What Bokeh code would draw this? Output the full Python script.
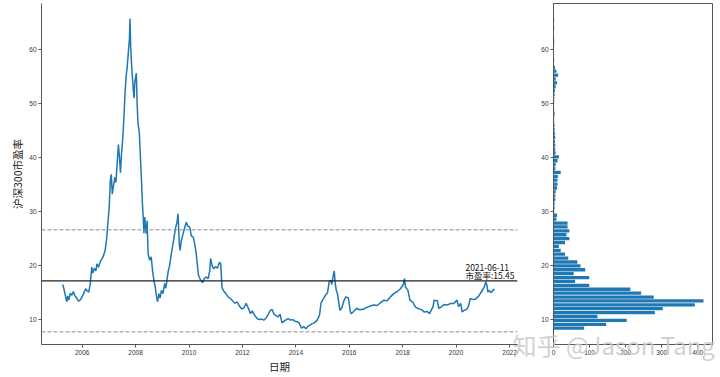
import pandas as pd
from bokeh.plotting import figure
from bokeh.layouts import row, column
from bokeh.models import Range1d, FixedTicker, DatetimeTickFormatter, Span, Label
from bokeh.embed import file_html
from bokeh.resources import INLINE

# ---------------- data ----------------
pe_dates = [
    "2005-04-08", "2005-04-22", "2005-05-13", "2005-06-03", "2005-06-17", "2005-07-01", "2005-07-22",
    "2005-08-12", "2005-09-02", "2005-09-23", "2005-10-21", "2005-11-11", "2005-12-02", "2005-12-23",
    "2006-01-20", "2006-02-17", "2006-03-10", "2006-03-31", "2006-04-21", "2006-05-12", "2006-05-26",
    "2006-06-16", "2006-07-07", "2006-07-21", "2006-08-11", "2006-09-08", "2006-10-13", "2006-11-10",
    "2006-12-01", "2006-12-15", "2007-01-05", "2007-01-19", "2007-02-02", "2007-02-16", "2007-03-02",
    "2007-03-23", "2007-04-06", "2007-04-20", "2007-05-11", "2007-05-25", "2007-06-08", "2007-06-22",
    "2007-07-13", "2007-07-27", "2007-08-10", "2007-08-24", "2007-09-07", "2007-09-21", "2007-10-09",
    "2007-10-16", "2007-10-26", "2007-11-06", "2007-11-20", "2007-11-30", "2007-12-11", "2007-12-21",
    "2008-01-11", "2008-01-22", "2008-02-01", "2008-02-22", "2008-03-07", "2008-03-18", "2008-04-01",
    "2008-04-14", "2008-04-24", "2008-05-06", "2008-05-16", "2008-05-27", "2008-06-06", "2008-06-20",
    "2008-07-11", "2008-08-01", "2008-08-20", "2008-09-10", "2008-09-26", "2008-10-10", "2008-10-28",
    "2008-11-14", "2008-12-01", "2008-12-19", "2009-01-09", "2009-02-02", "2009-02-16", "2009-03-02",
    "2009-03-20", "2009-04-10", "2009-05-04", "2009-05-20", "2009-06-10", "2009-07-01", "2009-07-20",
    "2009-08-04", "2009-08-20", "2009-09-01", "2009-09-15", "2009-10-12", "2009-11-02", "2009-11-24",
    "2009-12-15", "2010-01-11", "2010-02-01", "2010-03-01", "2010-03-19", "2010-04-09", "2010-04-26",
    "2010-05-10", "2010-06-01", "2010-07-05", "2010-07-23", "2010-08-20", "2010-09-20", "2010-10-11",
    "2010-10-22", "2010-11-12", "2010-12-03", "2010-12-30", "2011-01-25", "2011-02-21", "2011-03-10",
    "2011-03-28", "2011-04-20", "2011-05-20", "2011-06-20", "2011-07-20", "2011-08-19", "2011-09-20",
    "2011-10-20", "2011-11-21", "2011-12-20", "2012-01-19", "2012-02-20", "2012-03-09", "2012-04-20",
    "2012-05-15", "2012-06-20", "2012-07-20", "2012-08-20", "2012-09-20", "2012-10-19", "2012-11-20",
    "2012-12-20", "2013-01-18", "2013-02-08", "2013-03-08", "2013-03-29", "2013-05-02", "2013-05-30",
    "2013-06-25", "2013-08-01", "2013-09-16", "2013-10-21", "2013-11-20", "2013-12-20", "2014-01-20",
    "2014-02-14", "2014-03-20", "2014-04-18", "2014-05-20", "2014-06-16", "2014-07-10", "2014-08-05",
    "2014-09-10", "2014-10-20", "2014-11-20", "2014-12-10", "2014-12-31", "2015-01-20", "2015-02-10",
    "2015-03-10", "2015-04-01", "2015-04-20", "2015-05-08", "2015-06-01", "2015-06-10", "2015-06-25",
    "2015-07-08", "2015-07-24", "2015-08-26", "2015-09-21", "2015-10-20", "2015-11-16", "2015-12-21",
    "2016-01-15", "2016-01-28", "2016-03-01", "2016-04-11", "2016-05-20", "2016-07-11", "2016-08-22",
    "2016-10-10", "2016-12-01", "2017-01-16", "2017-03-01", "2017-04-20", "2017-06-01", "2017-07-17",
    "2017-09-01", "2017-10-20", "2017-12-01", "2018-01-10", "2018-01-25", "2018-02-09", "2018-03-12",
    "2018-04-10", "2018-05-21", "2018-06-25", "2018-08-10", "2018-09-20", "2018-10-19", "2018-12-03",
    "2019-01-03", "2019-02-20", "2019-03-07", "2019-04-19", "2019-05-10", "2019-06-10", "2019-07-19",
    "2019-09-02", "2019-10-21", "2019-12-02", "2020-01-14", "2020-02-03", "2020-03-05", "2020-03-23",
    "2020-04-20", "2020-05-25", "2020-06-19", "2020-07-13", "2020-08-20", "2020-09-25", "2020-11-02",
    "2020-12-15", "2021-01-20", "2021-02-10", "2021-03-01", "2021-03-10", "2021-04-01", "2021-04-20",
    "2021-05-10", "2021-05-25", "2021-06-11",
]
pe_values = [
    16.5, 15.9, 14.6, 13.3, 14.4, 13.6, 14.9,
    14.5, 15.2, 14.4, 13.9, 13.4, 13.6, 14.0,
    14.8, 15.7, 15.3, 15.1, 16.6, 19.7, 18.6,
    19.5, 19.0, 20.3, 19.7, 20.8, 21.6, 22.8,
    25.0, 27.4, 30.8, 35.5, 36.9, 33.2, 34.5,
    36.3, 35.4, 38.1, 42.4, 40.1, 37.2, 40.6,
    44.3, 48.0, 52.0, 55.0, 56.6, 59.0, 62.0,
    65.7, 60.5, 57.4, 54.5, 52.6, 51.0, 54.0,
    55.6, 50.0, 46.7, 44.3, 40.0, 36.9, 32.0,
    28.9, 26.0, 29.0, 26.8, 25.9, 28.3, 22.2,
    21.0, 21.6, 19.0, 17.0, 16.0, 14.5, 13.3,
    14.8, 14.0, 15.4, 14.8, 16.7, 15.8, 17.0,
    18.8, 20.0, 22.2, 23.5, 25.2, 27.0, 28.0,
    29.6, 24.0, 22.8, 24.5, 25.9, 27.0, 28.0,
    27.3, 27.1, 25.5, 25.2, 24.0, 22.2, 20.0,
    18.2, 17.5, 16.8, 17.5, 17.9, 17.6, 19.0,
    21.3, 20.0, 19.4, 19.8, 19.5, 20.6, 20.3,
    15.9, 15.3, 14.8, 14.2, 13.9, 13.5, 13.0,
    13.3, 12.5, 12.0, 12.1, 13.0, 12.5, 11.1,
    11.6, 10.7, 10.2, 10.0, 10.1, 9.9, 10.3,
    11.0, 11.7, 11.9, 11.0, 10.8, 10.5, 11.0,
    9.4, 9.8, 10.2, 9.9, 10.0, 9.7, 9.6,
    9.4, 8.4, 8.7, 8.3, 8.8, 8.9, 9.2,
    9.4, 9.9, 10.8, 13.0, 13.6, 14.0, 14.5,
    15.0, 17.0, 17.3, 16.5, 18.5, 19.0, 16.5,
    15.4, 14.8, 11.7, 12.2, 13.5, 14.2, 14.0,
    11.5, 11.1, 11.5, 12.1, 11.8, 11.9, 12.2,
    12.5, 12.7, 12.6, 13.1, 13.6, 13.5, 14.2,
    14.8, 15.2, 15.7, 16.5, 17.6, 16.0, 15.5,
    13.6, 13.2, 12.3, 12.0, 11.8, 11.4, 11.5,
    11.1, 12.4, 13.6, 13.5, 12.1, 12.3, 12.8,
    12.7, 13.0, 13.0, 13.6, 12.4, 13.0, 11.4,
    11.7, 11.9, 12.5, 13.9, 13.7, 13.8, 14.3,
    15.2, 16.0, 17.0, 16.2, 15.1, 15.4, 15.0,
    15.2, 15.6, 15.45,
]
pe_mean = 17.17
pe_std = 4.72
last_date = "2021-06-11"
last_pe = 15.45

# histogram of the PE values (80 bins between hist_lo and hist_hi)
hist_lo = 8.05
hist_hi = 65.70
hist_counts = [
    85, 146, 203, 122, 281, 303, 392, 416, 278, 243,
    213, 99, 60, 99, 56, 88, 75, 66, 41, 32,
    20, 15, 32, 44, 36, 44, 39, 39, 8, 10,
    2, 3, 3, 5, 5, 6, 10, 11, 11, 12,
    20, 5, 6, 11, 15, 6, 5, 5, 4, 5,
    4, 3, 3, 2, 2, 3, 2, 1, 2, 2,
    3, 4, 6, 10, 6, 13, 8, 4, 1, 2,
    1, 0, 1, 2, 2, 0, 1, 2, 1, 2,
]

year_ticks = [2006, 2008, 2010, 2012, 2014, 2016, 2018, 2020, 2022]
pe_ticks = [10, 20, 30, 40, 50, 60]
count_ticks = [0, 100, 200, 300, 400]
watermark = "知乎 @Jason Tang"

# ---------------- styling ----------------
BLUE = "#1f77b4"
CJK = "Noto Sans CJK SC"
TICKF = "Liberation Sans"
SPINE = "#555555"
H = 376
FRAME_L, FRAME_R, FRAME_T, FRAME_B = 41, 517, 3, 345
P1_W = 533


def ms(d):
    return pd.Timestamp(d).value / 1e6


def style_axis(ax):
    ax.axis_line_color = SPINE
    ax.axis_line_width = 1
    ax.major_tick_line_color = SPINE
    ax.major_tick_out = 3
    ax.major_tick_in = 0
    ax.minor_tick_line_color = None
    ax.major_label_text_font = TICKF
    ax.major_label_text_font_size = "6.5px"
    ax.major_label_text_color = "#333333"
    ax.major_label_standoff = 2
    ax.axis_label_text_font = CJK
    ax.axis_label_text_font_size = "10.5px"
    ax.axis_label_text_font_style = "normal"
    ax.axis_label_text_color = "#222222"
    ax.axis_label_standoff = 1


def transparent(p):
    p.outline_line_color = None
    p.grid.grid_line_color = None
    p.background_fill_alpha = 0
    p.border_fill_alpha = 0


y_range = Range1d(5.39, 68.5)
x0, x1 = ms("2004-06-23"), ms("2022-04-20")

# ---------------- main time series ----------------
p1 = figure(width=P1_W, height=H, x_axis_type="datetime", output_backend="svg",
            toolbar_location=None, x_range=Range1d(x0, x1), y_range=y_range,
            min_border_left=FRAME_L, min_border_right=P1_W - FRAME_R,
            min_border_top=FRAME_T, min_border_bottom=H - FRAME_B)
p1.outline_line_color = None
p1.grid.grid_line_color = None

dates = pd.to_datetime(pe_dates)
p1.line(dates, pe_values, line_color=BLUE, line_width=1.5)

p1.add_layout(Span(location=pe_mean, dimension="width", line_color="#222222", line_width=1.3))
p1.add_layout(Span(location=pe_mean + 2 * pe_std, dimension="width", line_color="#8c8c8c",
                   line_width=1, line_dash="4 2"))
p1.add_layout(Span(location=pe_mean - 2 * pe_std, dimension="width", line_color="#8c8c8c",
                   line_width=1, line_dash="4 2"))

for ax in (p1.xaxis[0], p1.yaxis[0]):
    style_axis(ax)
p1.xaxis.ticker = FixedTicker(ticks=[ms("%d-01-01" % y) for y in year_ticks])
p1.xaxis.formatter = DatetimeTickFormatter(years="%Y", months="%Y", days="%Y", hours="%Y")
p1.yaxis.ticker = FixedTicker(ticks=pe_ticks)
p1.xaxis.axis_label = "日期"
p1.yaxis.axis_label = "沪深300市盈率"

# transparent overlay with the same scales, whose frame reaches further right,
# so that the annotation may run past the axes like in the original
ext = (x1 - x0) * (P1_W - FRAME_L) / (FRAME_R - FRAME_L)
p_note = figure(width=P1_W, height=H, x_axis_type="datetime", output_backend="svg",
                toolbar_location=None, x_range=Range1d(x0, x0 + ext), y_range=y_range,
                x_axis_location=None, y_axis_location=None,
                min_border_left=FRAME_L, min_border_right=0,
                min_border_top=FRAME_T, min_border_bottom=H - FRAME_B)
transparent(p_note)
p_note.margin = (0, 0, 0, -P1_W)
text_x = ms("2020-05-08")
p_note.add_layout(Label(x=text_x, y=pe_mean, y_offset=10, text=last_date, text_font=CJK,
                        text_font_size="8.5px", text_color="#111111", text_baseline="bottom"))
p_note.add_layout(Label(x=text_x, y=pe_mean, y_offset=0, text="市盈率:%.2f" % last_pe,
                        text_font=CJK, text_font_size="8.5px", text_color="#111111",
                        text_baseline="bottom"))

# ---------------- histogram ----------------
nb = len(hist_counts)
bw = (hist_hi - hist_lo) / nb
centers = [hist_lo + (i + 0.5) * bw for i in range(nb)]

P2_W, P2_SHIFT = 210, 23
p2 = figure(width=P2_W, height=H, output_backend="svg", toolbar_location=None,
            x_range=Range1d(0, 441), y_range=y_range,
            min_border_left=43, min_border_right=8, min_border_top=FRAME_T,
            min_border_bottom=H - FRAME_B)
p2.margin = (0, 0, 0, -P2_SHIFT)
p2.border_fill_alpha = 0
p2.grid.grid_line_color = None
p2.outline_line_color = SPINE
p2.outline_line_width = 1
p2.hbar(y=centers, left=0, right=hist_counts, height=bw * 0.85, fill_color=BLUE, line_color=None)
for ax in (p2.xaxis[0], p2.yaxis[0]):
    style_axis(ax)
p2.xaxis.ticker = FixedTicker(ticks=count_ticks)
p2.yaxis.ticker = FixedTicker(ticks=pe_ticks)

# ---------------- watermark overlay (own column, frame = whole canvas) ----------------
p_wm = figure(width=P2_W, height=H, output_backend="svg", toolbar_location=None,
              x_range=Range1d(0, P2_W), y_range=Range1d(0, H),
              x_axis_location=None, y_axis_location=None,
              min_border_left=0, min_border_right=0, min_border_top=0, min_border_bottom=0)
transparent(p_wm)
p_wm.add_layout(Label(x=2, y=H - 361, text=watermark, text_font=CJK, text_font_size="24px",
                      text_baseline="bottom", text_color="#c9c9c9", text_alpha=0.85))
wm_col = column(p_wm)
wm_col.margin = (0, 0, 0, -P2_W)

layout = row(p1, p_note, p2, wm_col)
open("out.html", "w").write(file_html(layout, INLINE))
